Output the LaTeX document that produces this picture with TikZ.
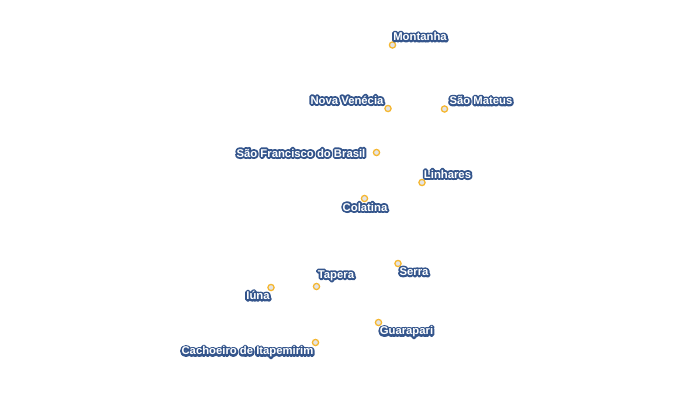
\documentclass[tikz,border=0pt]{standalone}
\usepackage{fontspec}
\setmainfont{Liberation Sans}
\usetikzlibrary{positioning}
\definecolor{haloBlue}{HTML}{34558C}
\definecolor{dotEdge}{HTML}{F5B731}
\definecolor{dotFill}{HTML}{E4E4E4}
%% The label: a thick blue outline with the white text over it.
\newcommand{\haloText}[1]{%%
  \rlap{\textcolor{haloBlue}{\special{pdf:code 2 Tr 3.8 w 1 j 1 J}#1\special{pdf:code 0 Tr 1 w 0 j 0 J}}}%%
  \textcolor{white}{#1}%%
}
\newcommand{\cityPoint}[6]{%%
  \node[dotStyle] (#1) at (#2,#3) {};
  \node[labelStyle] (#1Label) at (#4,#5) {\haloText{#6}};
}
\begin{document}
\begin{tikzpicture}[%%
  x=1pt,y=-1pt,%%
  dotStyle/.style={circle,draw=dotEdge,fill=dotFill,line width=1.3pt,inner sep=0pt,minimum size=6.2pt},%%
  labelStyle/.style={inner sep=0pt,anchor=center,font=\fontsize{11.3}{13}\selectfont\bfseries}
]
\useasboundingbox (0,0) rectangle (700,410);
%%
%% The cities, north to south.
\cityPoint{montanha}{392.5}{45}{420}{36.5}{Montanha}
\cityPoint{novaVenecia}{388}{108.5}{347}{100}{Nova Venécia}
\cityPoint{saoMateus}{444.5}{109}{481}{100.5}{São Mateus}
\cityPoint{saoFrancisco}{376.5}{152.5}{301}{153}{São Francisco do Brasil}
\cityPoint{linhares}{422}{182.5}{447.5}{174}{Linhares}
\cityPoint{colatina}{364.5}{198.5}{365}{207}{Colatina}
\cityPoint{serra}{398}{263.5}{414}{271.5}{Serra}
\cityPoint{tapera}{316.5}{286.5}{336}{275.5}{Tapera}
\cityPoint{iuna}{271}{287.5}{258}{295.5}{Iúna}
\cityPoint{guarapari}{378.5}{322.5}{406.5}{332}{Guarapari}
\cityPoint{cachoeiro}{315.5}{342.5}{247.5}{352}{Cachoeiro de Itapemirim}
\end{tikzpicture}
\end{document}
